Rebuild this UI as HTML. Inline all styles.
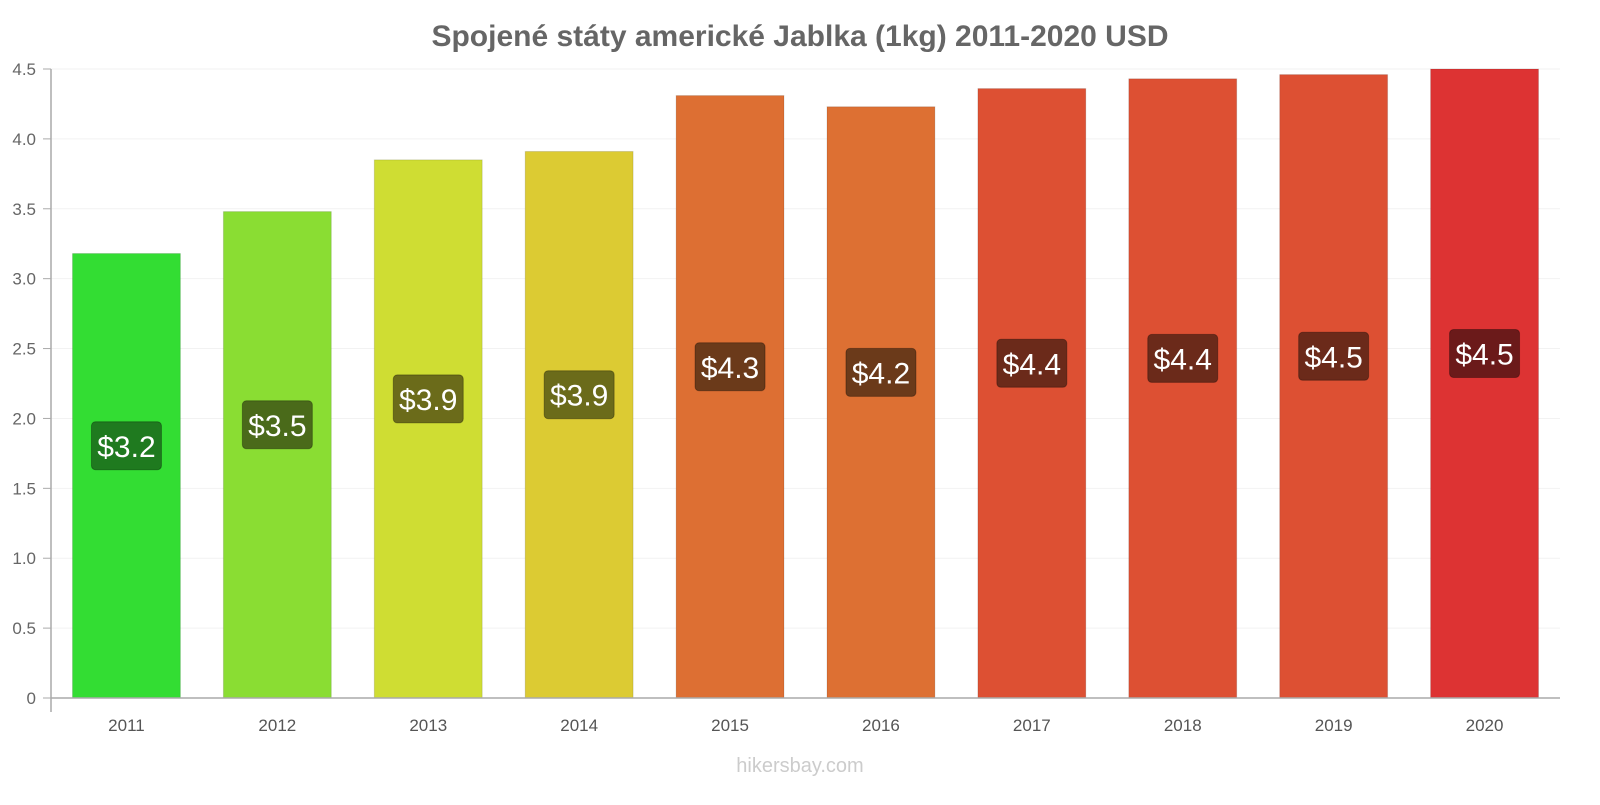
<!DOCTYPE html>
<html><head><meta charset="utf-8"><style>
body{margin:0;background:#fff;width:1600px;height:800px;overflow:hidden;font-family:"Liberation Sans",sans-serif}
</style></head><body>
<svg id="c" width="1600" height="800" xmlns="http://www.w3.org/2000/svg">
<text x="800" y="46" text-anchor="middle" font-size="30" font-weight="bold" fill="#666">Spojené státy americké Jablka (1kg) 2011-2020 USD</text>
<g id="grid"></g><g id="bars"></g>
<line x1="51" y1="698" x2="1560" y2="698" stroke="#aaa" stroke-width="1.5"/>
<line x1="51" y1="69" x2="51" y2="712" stroke="#aaa" stroke-width="1.5"/>
<text x="800" y="772" text-anchor="middle" font-size="20" fill="#ccc">hikersbay.com</text>
</svg>
<script>
const categories=["2011","2012","2013","2014","2015","2016","2017","2018","2019","2020"];
const values=[3.18,3.48,3.85,3.91,4.31,4.23,4.36,4.43,4.46,4.5];
const valueLabels=["$3.2","$3.5","$3.9","$3.9","$4.3","$4.2","$4.4","$4.4","$4.5","$4.5"];
const yTicks=[0,0.5,1,1.5,2,2.5,3,3.5,4,4.5];
const yTickLabels=["0","0.5","1.0","1.5","2.0","2.5","3.0","3.5","4.0","4.5"];
const barColors=["#33dd33","#8add33","#cfdd33","#dccb33","#dd6f33","#dd7033","#dd5033","#dd5033","#dd5033","#dd3333"];
const labelColors=["#1f7a1f","#4a6a1a","#6b6b1a","#6b6b1a","#6b3a1a","#6b3a1a","#6b2a1a","#6b2a1a","#6b2a1a","#6b1a1a"];
const NS="http://www.w3.org/2000/svg";
const x0=51,x1=1560,y0=698,yTop=69,yMax=4.5;
const slot=(x1-x0)/categories.length;
const xC=i=>x0+slot*(i+0.5);
const yS=v=>y0-(v/yMax)*(y0-yTop);
function mk(t,a,p){const e=document.createElementNS(NS,t);for(const k in a)e.setAttribute(k,a[k]);p.appendChild(e);return e;}
const g=document.getElementById('grid'),b=document.getElementById('bars');
yTicks.forEach((t,i)=>{
 const y=yS(t);
 if(t>0){const l=mk('line',{x1:x0,x2:x1,y1:y,y2:y,stroke:'#f2f2f2'},g);
 
 }
 const tk=mk('line',{x1:x0-8,x2:x0,y1:y,y2:y,stroke:'#aaa'},g);
 
 
 const tx=mk('text',{x:36,y:y+6,'text-anchor':'end','font-size':17,fill:'#666'},g);
 tx.textContent=yTickLabels[i];
 
 
});
const bw=slot*0.715;
categories.forEach((c,i)=>{
 const cx=xC(i),top=yS(values[i]);
 const r=mk('rect',{x:cx-bw/2,y:top,width:bw,height:y0-top,fill:barColors[i],stroke:'rgba(0,0,0,0.12)'},b);
 
 
 const ly=(top+y0)/2-30;
 const lr=mk('rect',{x:cx-35,y:ly-24,width:70,height:48,rx:4,fill:labelColors[i],stroke:'rgba(0,0,0,0.3)'},b);
 
 
 const lt=mk('text',{x:cx,y:ly+11,'text-anchor':'middle','font-size':30,fill:'#fff'},b);
 lt.textContent=valueLabels[i];
 
 
 const xt=mk('text',{x:cx,y:731,'text-anchor':'middle','font-size':17,fill:'#555'},b);
 xt.textContent=c;
 
 
});
</script>
</body></html>
